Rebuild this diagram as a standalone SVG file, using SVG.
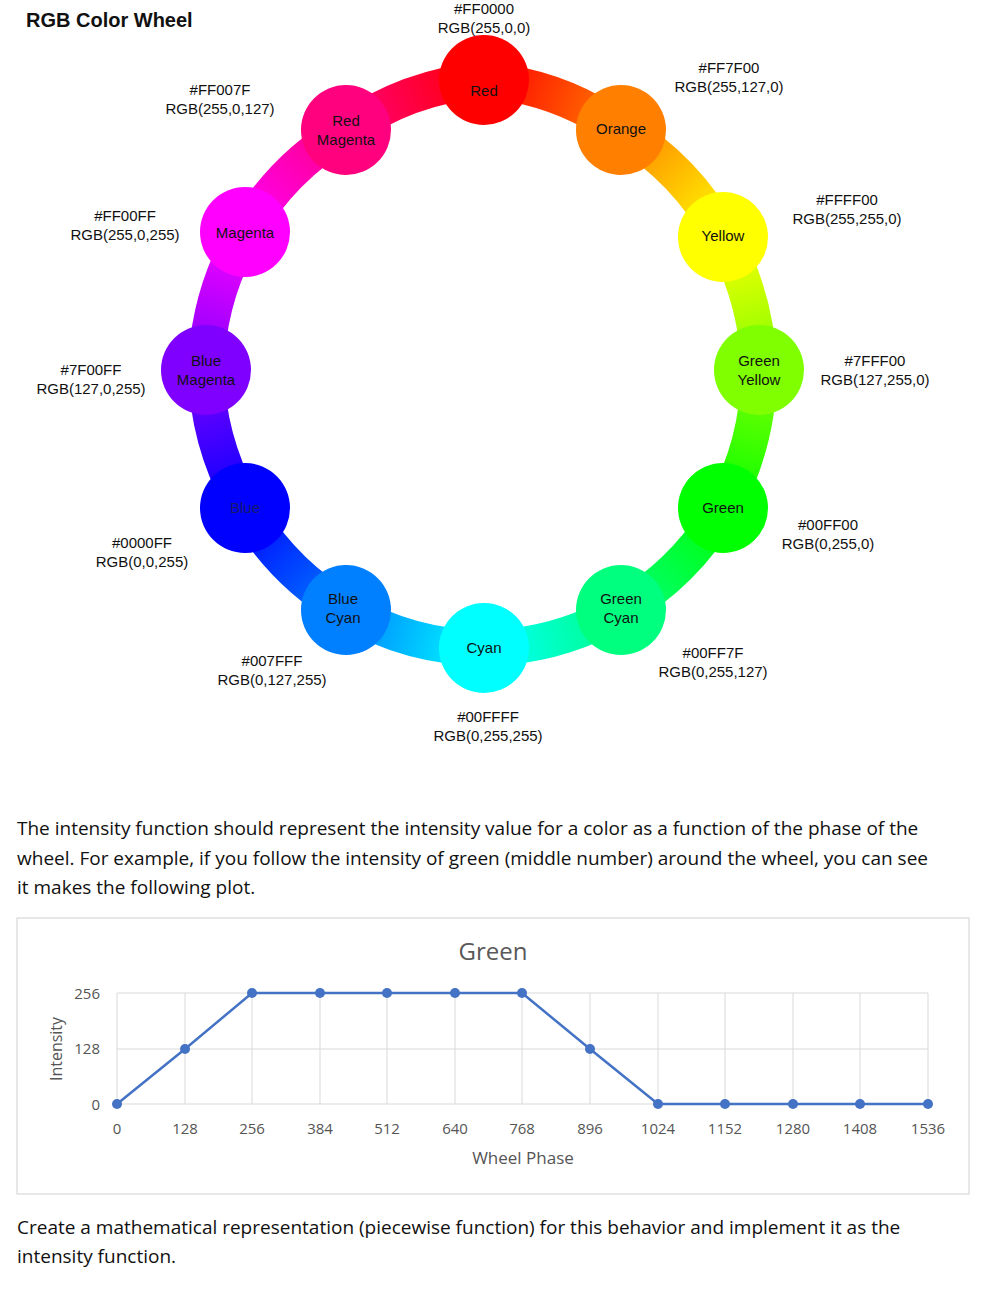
<svg xmlns="http://www.w3.org/2000/svg" width="997" height="1303" viewBox="0 0 997 1303">
<style>
.t{font-family:"Liberation Sans",Arial,sans-serif;font-size:15px;fill:#111;text-anchor:middle}
.n{font-family:"Liberation Sans",Arial,sans-serif;font-size:15px;fill:#111;text-anchor:middle}
.p{font-family:"Open Sans","Liberation Sans",sans-serif;font-size:19px;fill:#111}
.a{font-family:"Open Sans","Liberation Sans",sans-serif;font-size:15px;fill:#555;text-anchor:middle}
.g{stroke:#d9d9d9;stroke-width:1;fill:none}
.seg{fill:none;stroke-width:36}
</style>
<defs>
<linearGradient id="g0" gradientUnits="userSpaceOnUse" x1="484" y1="80" x2="621" y2="130"><stop offset="0" stop-color="#FF0000"/><stop offset="1" stop-color="#FF7F00"/></linearGradient>
<linearGradient id="g1" gradientUnits="userSpaceOnUse" x1="621" y1="130" x2="723" y2="237"><stop offset="0" stop-color="#FF7F00"/><stop offset="1" stop-color="#FFFF00"/></linearGradient>
<linearGradient id="g2" gradientUnits="userSpaceOnUse" x1="723" y1="237" x2="759" y2="370"><stop offset="0" stop-color="#FFFF00"/><stop offset="1" stop-color="#7FFF00"/></linearGradient>
<linearGradient id="g3" gradientUnits="userSpaceOnUse" x1="759" y1="370" x2="723" y2="508"><stop offset="0" stop-color="#7FFF00"/><stop offset="1" stop-color="#00FF00"/></linearGradient>
<linearGradient id="g4" gradientUnits="userSpaceOnUse" x1="723" y1="508" x2="621" y2="610"><stop offset="0" stop-color="#00FF00"/><stop offset="1" stop-color="#00FF7F"/></linearGradient>
<linearGradient id="g5" gradientUnits="userSpaceOnUse" x1="621" y1="610" x2="484" y2="648"><stop offset="0" stop-color="#00FF7F"/><stop offset="1" stop-color="#00FFFF"/></linearGradient>
<linearGradient id="g6" gradientUnits="userSpaceOnUse" x1="484" y1="648" x2="346" y2="610"><stop offset="0" stop-color="#00FFFF"/><stop offset="1" stop-color="#007FFF"/></linearGradient>
<linearGradient id="g7" gradientUnits="userSpaceOnUse" x1="346" y1="610" x2="245" y2="508"><stop offset="0" stop-color="#007FFF"/><stop offset="1" stop-color="#0000FF"/></linearGradient>
<linearGradient id="g8" gradientUnits="userSpaceOnUse" x1="245" y1="508" x2="206" y2="370"><stop offset="0" stop-color="#0000FF"/><stop offset="1" stop-color="#7F00FF"/></linearGradient>
<linearGradient id="g9" gradientUnits="userSpaceOnUse" x1="206" y1="370" x2="245" y2="232"><stop offset="0" stop-color="#7F00FF"/><stop offset="1" stop-color="#FF00FF"/></linearGradient>
<linearGradient id="g10" gradientUnits="userSpaceOnUse" x1="245" y1="232" x2="346" y2="130"><stop offset="0" stop-color="#FF00FF"/><stop offset="1" stop-color="#FF007F"/></linearGradient>
<linearGradient id="g11" gradientUnits="userSpaceOnUse" x1="346" y1="130" x2="484" y2="80"><stop offset="0" stop-color="#FF007F"/><stop offset="1" stop-color="#FF0000"/></linearGradient>
</defs>
<rect width="997" height="1303" fill="#fff"/>
<text x="26" y="27" font-family="Liberation Sans,Arial,sans-serif" font-size="20" font-weight="bold" fill="#111">RGB Color Wheel</text>
<g id="connectors">
<path class="seg" stroke="url(#g0)" d="M484 80 A280 284 0 0 1 621 130"/>
<path class="seg" stroke="url(#g1)" d="M621 130 A280 284 0 0 1 723 237"/>
<path class="seg" stroke="url(#g2)" d="M723 237 A280 284 0 0 1 759 370"/>
<path class="seg" stroke="url(#g3)" d="M759 370 A280 284 0 0 1 723 508"/>
<path class="seg" stroke="url(#g4)" d="M723 508 A280 284 0 0 1 621 610"/>
<path class="seg" stroke="url(#g5)" d="M621 610 A280 284 0 0 1 484 648"/>
<path class="seg" stroke="url(#g6)" d="M484 648 A280 284 0 0 1 346 610"/>
<path class="seg" stroke="url(#g7)" d="M346 610 A280 284 0 0 1 245 508"/>
<path class="seg" stroke="url(#g8)" d="M245 508 A280 284 0 0 1 206 370"/>
<path class="seg" stroke="url(#g9)" d="M206 370 A280 284 0 0 1 245 232"/>
<path class="seg" stroke="url(#g10)" d="M245 232 A280 284 0 0 1 346 130"/>
<path class="seg" stroke="url(#g11)" d="M346 130 A280 284 0 0 1 484 80"/>
</g>
<g id="red"><circle cx="484" cy="80" r="45" fill="#FF0000"/><text class="n" x="484" y="96">Red</text></g>
<g id="orange"><circle cx="621" cy="130" r="45" fill="#FF7F00"/><text class="n" x="621" y="134">Orange</text></g>
<g id="yellow"><circle cx="723" cy="237" r="45" fill="#FFFF00"/><text class="n" x="723" y="241">Yellow</text></g>
<g id="greenyellow"><circle cx="759" cy="370" r="45" fill="#7FFF00"/><text class="n" x="759" y="366">Green</text><text class="n" x="759" y="385">Yellow</text></g>
<g id="green"><circle cx="723" cy="508" r="45" fill="#00FF00"/><text class="n" x="723" y="513">Green</text></g>
<g id="greencyan"><circle cx="621" cy="610" r="45" fill="#00FF7F"/><text class="n" x="621" y="604">Green</text><text class="n" x="621" y="623">Cyan</text></g>
<g id="cyan"><circle cx="484" cy="648" r="45" fill="#00FFFF"/><text class="n" x="484" y="653">Cyan</text></g>
<g id="bluecyan"><circle cx="346" cy="610" r="45" fill="#007FFF"/><text class="n" x="343" y="604">Blue</text><text class="n" x="343" y="623">Cyan</text></g>
<g id="blue"><circle cx="245" cy="508" r="45" fill="#0000FF"/><text class="n" x="245" y="513" style="fill:#1a1a6a">Blue</text></g>
<g id="bluemagenta"><circle cx="206" cy="370" r="45" fill="#7F00FF"/><text class="n" x="206" y="366">Blue</text><text class="n" x="206" y="385">Magenta</text></g>
<g id="magenta"><circle cx="245" cy="232" r="45" fill="#FF00FF"/><text class="n" x="245" y="238">Magenta</text></g>
<g id="redmagenta"><circle cx="346" cy="130" r="45" fill="#FF007F"/><text class="n" x="346" y="126">Red</text><text class="n" x="346" y="145">Magenta</text></g>
<g id="labels">
<text class="t" x="484" y="14">#FF0000</text><text class="t" x="484" y="33">RGB(255,0,0)</text>
<text class="t" x="729" y="73">#FF7F00</text><text class="t" x="729" y="92">RGB(255,127,0)</text>
<text class="t" x="220" y="95">#FF007F</text><text class="t" x="220" y="114">RGB(255,0,127)</text>
<text class="t" x="847" y="205">#FFFF00</text><text class="t" x="847" y="224">RGB(255,255,0)</text>
<text class="t" x="125" y="221">#FF00FF</text><text class="t" x="125" y="240">RGB(255,0,255)</text>
<text class="t" x="875" y="366">#7FFF00</text><text class="t" x="875" y="385">RGB(127,255,0)</text>
<text class="t" x="91" y="375">#7F00FF</text><text class="t" x="91" y="394">RGB(127,0,255)</text>
<text class="t" x="828" y="530">#00FF00</text><text class="t" x="828" y="549">RGB(0,255,0)</text>
<text class="t" x="142" y="548">#0000FF</text><text class="t" x="142" y="567">RGB(0,0,255)</text>
<text class="t" x="713" y="658">#00FF7F</text><text class="t" x="713" y="677">RGB(0,255,127)</text>
<text class="t" x="272" y="666">#007FFF</text><text class="t" x="272" y="685">RGB(0,127,255)</text>
<text class="t" x="488" y="722">#00FFFF</text><text class="t" x="488" y="741">RGB(0,255,255)</text>
</g>
<text class="p" x="17" y="835">The intensity function should represent the intensity value for a color as a function of the phase of the</text>
<text class="p" x="17" y="865">wheel. For example, if you follow the intensity of green (middle number) around the wheel, you can see</text>
<text class="p" x="17" y="894">it makes the following plot.</text>
<g id="chart">
<rect x="17" y="918" width="952" height="276" fill="#fff" stroke="#d0d0d0"/>
<text x="493" y="960" font-family="Open Sans,Liberation Sans,sans-serif" font-size="24" fill="#595959" text-anchor="middle">Green</text>
<path class="g" d="M117 993H928M117 1049H928M117 1104H928M117 993V1104M185 993V1104M252 993V1104M320 993V1104M387 993V1104M455 993V1104M522 993V1104M590 993V1104M658 993V1104M725 993V1104M793 993V1104M860 993V1104M928 993V1104"/>
<g class="a" style="text-anchor:end"><text x="100" y="999">256</text><text x="100" y="1054">128</text><text x="100" y="1110">0</text></g>
<g class="a"><text x="117" y="1134">0</text><text x="185" y="1134">128</text><text x="252" y="1134">256</text><text x="320" y="1134">384</text><text x="387" y="1134">512</text><text x="455" y="1134">640</text><text x="522" y="1134">768</text><text x="590" y="1134">896</text><text x="658" y="1134">1024</text><text x="725" y="1134">1152</text><text x="793" y="1134">1280</text><text x="860" y="1134">1408</text><text x="928" y="1134">1536</text></g>
<text class="a" x="523" y="1164" style="font-size:17px">Wheel Phase</text>
<text class="a" transform="translate(62,1049) rotate(-90)" style="font-size:16px">Intensity</text>
<polyline points="117,1104 185,1049 252,993 320,993 387,993 455,993 522,993 590,1049 658,1104 725,1104 793,1104 860,1104 928,1104" fill="none" stroke="#4472C4" stroke-width="2.5"/>
<g fill="#4472C4"><circle cx="117" cy="1104" r="5"/><circle cx="185" cy="1049" r="5"/><circle cx="252" cy="993" r="5"/><circle cx="320" cy="993" r="5"/><circle cx="387" cy="993" r="5"/><circle cx="455" cy="993" r="5"/><circle cx="522" cy="993" r="5"/><circle cx="590" cy="1049" r="5"/><circle cx="658" cy="1104" r="5"/><circle cx="725" cy="1104" r="5"/><circle cx="793" cy="1104" r="5"/><circle cx="860" cy="1104" r="5"/><circle cx="928" cy="1104" r="5"/></g>
</g>
<text class="p" x="17" y="1234">Create a mathematical representation (piecewise function) for this behavior and implement it as the</text>
<text class="p" x="17" y="1263">intensity function.</text>
</svg>
